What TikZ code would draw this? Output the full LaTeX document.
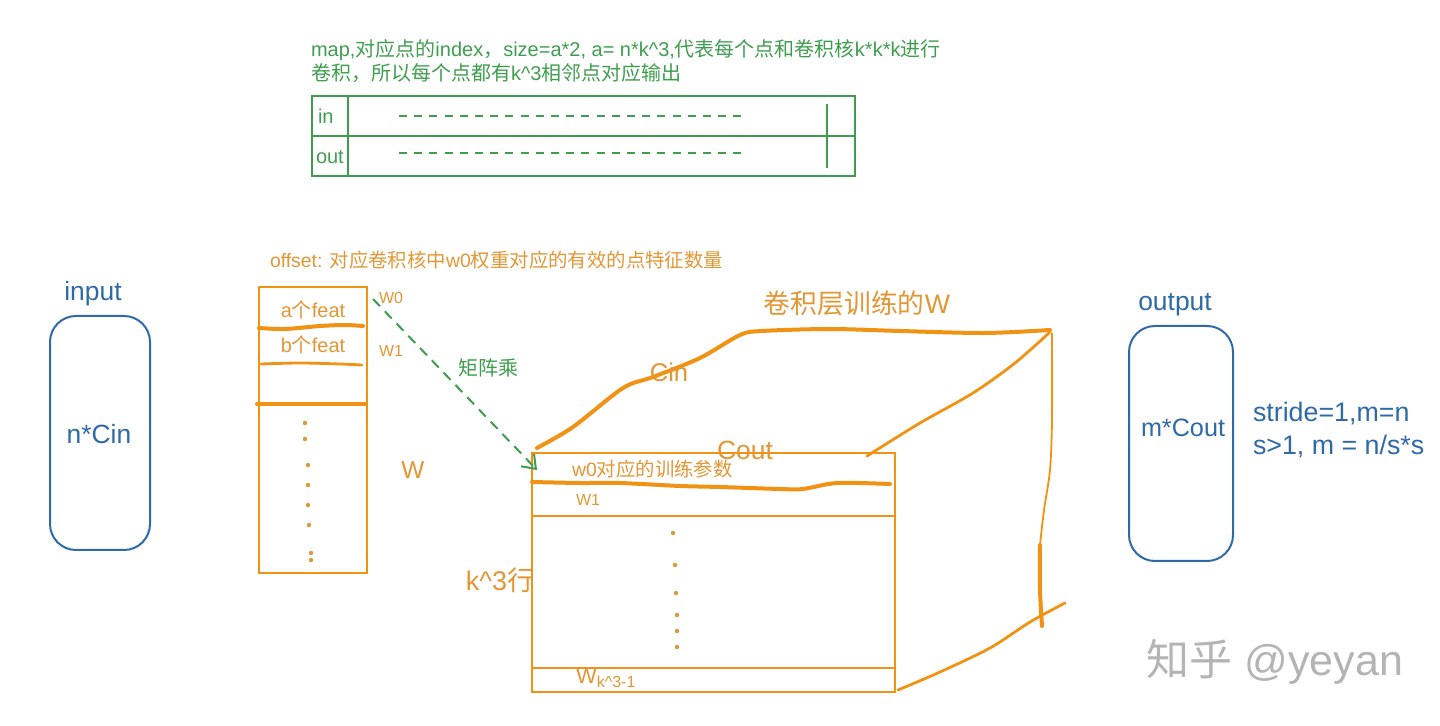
\documentclass[tikz,border=0pt]{standalone}
\usepackage{fontspec}
\setmainfont{Liberation Sans}
\newfontfamily\cjk{Noto Sans CJK SC}
\usetikzlibrary{arrows.meta}
\definecolor{grn}{RGB}{62,158,78}
\definecolor{org}{RGB}{240,146,20}
\definecolor{orgt}{RGB}{226,150,52}
\definecolor{blu}{RGB}{46,106,168}
\definecolor{wm}{RGB}{180,180,180}
\begin{document}
\begin{tikzpicture}[x=0.5pt,y=-0.5pt,
  txt/.style={inner sep=0pt, outer sep=0pt},
  gtxt/.style={txt, text=grn, font=\fontsize{10}{12}\selectfont},
  otxt/.style={txt, text=orgt},
  btxt/.style={txt, text=blu},
  bluebox/.style={draw=blu, line width=1pt, rounded corners=13pt},
  obox/.style={draw=org, line width=1pt},
  gbox/.style={draw=grn, line width=0.8pt},
  thin/.style={draw=org, line width=0.9pt},
  heavy/.style={draw=org, line width=2pt, line cap=round, line join=round},
  mid/.style={draw=org, line width=1.4pt, line cap=round, line join=round},
  dotf/.style={fill=orgt}
]
\useasboundingbox (0,0) rectangle (1440,726);

% ---------- top green map table ----------
\node[gtxt, anchor=west] (t1) at (311,50) {map,{\cjk 对应点的}index{\cjk ，}size=a*2, a= n*k\textasciicircum3,{\cjk 代表每个点和卷积核}k*k*k{\cjk 进行}};
\node[gtxt, anchor=west] (t2) at (311,73) {{\cjk 卷积，所以每个点都有}k\textasciicircum3{\cjk 相邻点对应输出}};
\node[gbox, minimum width=271.5pt, minimum height=40pt, inner sep=0pt] (map) at (583.5,136) {};
\draw[gbox] (312,136) -- (855,136);
\draw[gbox] (348,96) -- (348,176);
\draw[gbox] (827,104) -- (827,168);
\node[gtxt, anchor=west] (in) at (318,116) {in};
\node[gtxt, anchor=west] (out) at (316,157) {out};
\draw[grn, line width=0.6pt, dash pattern=on 4pt off 3.6pt] (399,116) -- (742,116);
\draw[grn, line width=0.6pt, dash pattern=on 4pt off 3.6pt] (399,153) -- (742,153);

% ---------- input ----------
\node[btxt, font=\fontsize{13.2}{15}\selectfont] (inlab) at (93,294) {input};
\node[bluebox, minimum width=50pt, minimum height=117pt] (inbox) at (100,433) {};
\node[btxt, font=\fontsize{13.2}{15}\selectfont] (ncin) at (99,434) {n*Cin};

% ---------- output ----------
\node[btxt, font=\fontsize{13.2}{15}\selectfont] (outlab) at (1175,305) {output};
\node[bluebox, minimum width=52pt, minimum height=117.5pt] (outbox) at (1181,443.5) {};
\node[btxt, font=\fontsize{12.6}{15}\selectfont] (mcout) at (1183,428) {m*Cout};
\node[btxt, font=\fontsize{13.4}{16.5}\selectfont, anchor=west, align=left] (stride) at (1253,430) {stride=1,m=n\\s>1, m = n/s*s};

% ---------- offset column ----------
\node[otxt, font=\fontsize{9.7}{12}\selectfont, anchor=west] (offt) at (270,260) {offset: {\cjk 对应卷积核中}w0{\cjk 权重对应的有效的点特征数量}};
\node[obox, minimum width=54pt, minimum height=143pt, inner sep=0pt] (off) at (313,430) {};
\draw[heavy] plot[smooth] coordinates {(259,328) (285,329) (320,326) (345,325) (363,326)};
\draw[mid] plot[smooth] coordinates {(261,364) (300,363) (340,364) (362,365)};
\draw[heavy] (257,404) -- (366,404);
\node[otxt, font=\fontsize{10}{12}\selectfont] (afeat) at (313,310) {a{\cjk 个}feat};
\node[otxt, font=\fontsize{10}{12}\selectfont] (bfeat) at (313,345) {b{\cjk 个}feat};
\foreach \xx/\yy in {305/423, 305/439, 308/465, 308/485, 308/505, 309/525, 311/553, 311/560}
  \fill[dotf] (\xx,\yy) circle (1.1pt);
\node[otxt, font=\fontsize{8}{9}\selectfont] (w0s) at (391,298) {W0};
\node[otxt, font=\fontsize{8}{9}\selectfont] (w1s) at (391,351) {W1};
\node[otxt, font=\fontsize{12.2}{14}\selectfont] (bigw) at (413,470) {W};

% ---------- cube ----------
\node[otxt, font=\fontsize{13.4}{15}\selectfont] (cubet) at (857,303) {{\cjk 卷积层训练的}W};
\node[obox, minimum width=181.5pt, minimum height=119.5pt, inner sep=0pt] (front) at (713.5,572.5) {};
\draw[heavy] plot[smooth] coordinates {(537,448) (573,427) (623,388) (653,377) (700,358) (740,335) (762,331) (830,329) (900,331) (985,333) (1050,330)};
\draw[mid] plot[smooth] coordinates {(867,456) (920,423) (973,393) (1015,363) (1050,332)};
\draw[thin] plot[smooth] coordinates {(1052,333) (1052,420) (1050,470) (1044,510) (1040,545)};
\draw[heavy] plot[smooth] coordinates {(1040,545) (1040,590) (1042,626)};
\draw[mid] plot[smooth] coordinates {(898,690) (940,672) (990,648) (1030,622) (1065,603)};
\draw[heavy] plot[smooth] coordinates {(532,482) (580,483) (620,483) (680,486) (720,487) (780,489) (803,489) (837,483) (890,484)};
\draw[thin] (532,516) -- (895,516);
\draw[thin] (532,668) -- (895,668);
\node[otxt, font=\fontsize{12.8}{15}\selectfont] (cin) at (669,372) {Cin};
\node[otxt, font=\fontsize{13.2}{15}\selectfont] (cout) at (745,450) {Cout};
\node[otxt, font=\fontsize{9.7}{12}\selectfont, anchor=west] (w0row) at (572,469) {w0{\cjk 对应的训练参数}};
\node[otxt, font=\fontsize{8}{9}\selectfont, anchor=west] (w1row) at (576,500) {W1};
\node[otxt, font=\fontsize{11}{12}\selectfont, anchor=west] (wlast) at (576,678) {W{\fontsize{8}{9}\selectfont\raisebox{-2.4pt}{k\textasciicircum3-1}}};
\node[otxt, font=\fontsize{13.5}{15}\selectfont] (k3) at (500,580) {k\textasciicircum3{\cjk 行}};
\foreach \xx/\yy in {673/533, 675/565, 676/593, 677/615, 677/631, 677/647}
  \fill[dotf] (\xx,\yy) circle (1.1pt);

% ---------- arrow ----------
\coordinate (ars) at ([shift={(5,13)}]off.north east);
\coordinate (are) at ([shift={(6,18)}]front.north west);
\draw[grn, line width=1pt, dash pattern=on 5pt off 3.5pt, -{Straight Barb[length=6pt,width=9pt]}] (ars) -- (are);
\node[gtxt] (mm) at (488,368) {{\cjk 矩阵乘}};

% ---------- watermark ----------
\node[txt, text=wm, font=\fontsize{21.5}{24}\selectfont] (wmk) at (1275,662) {{\cjk 知乎} @yeyan};
\end{tikzpicture}
\end{document}
